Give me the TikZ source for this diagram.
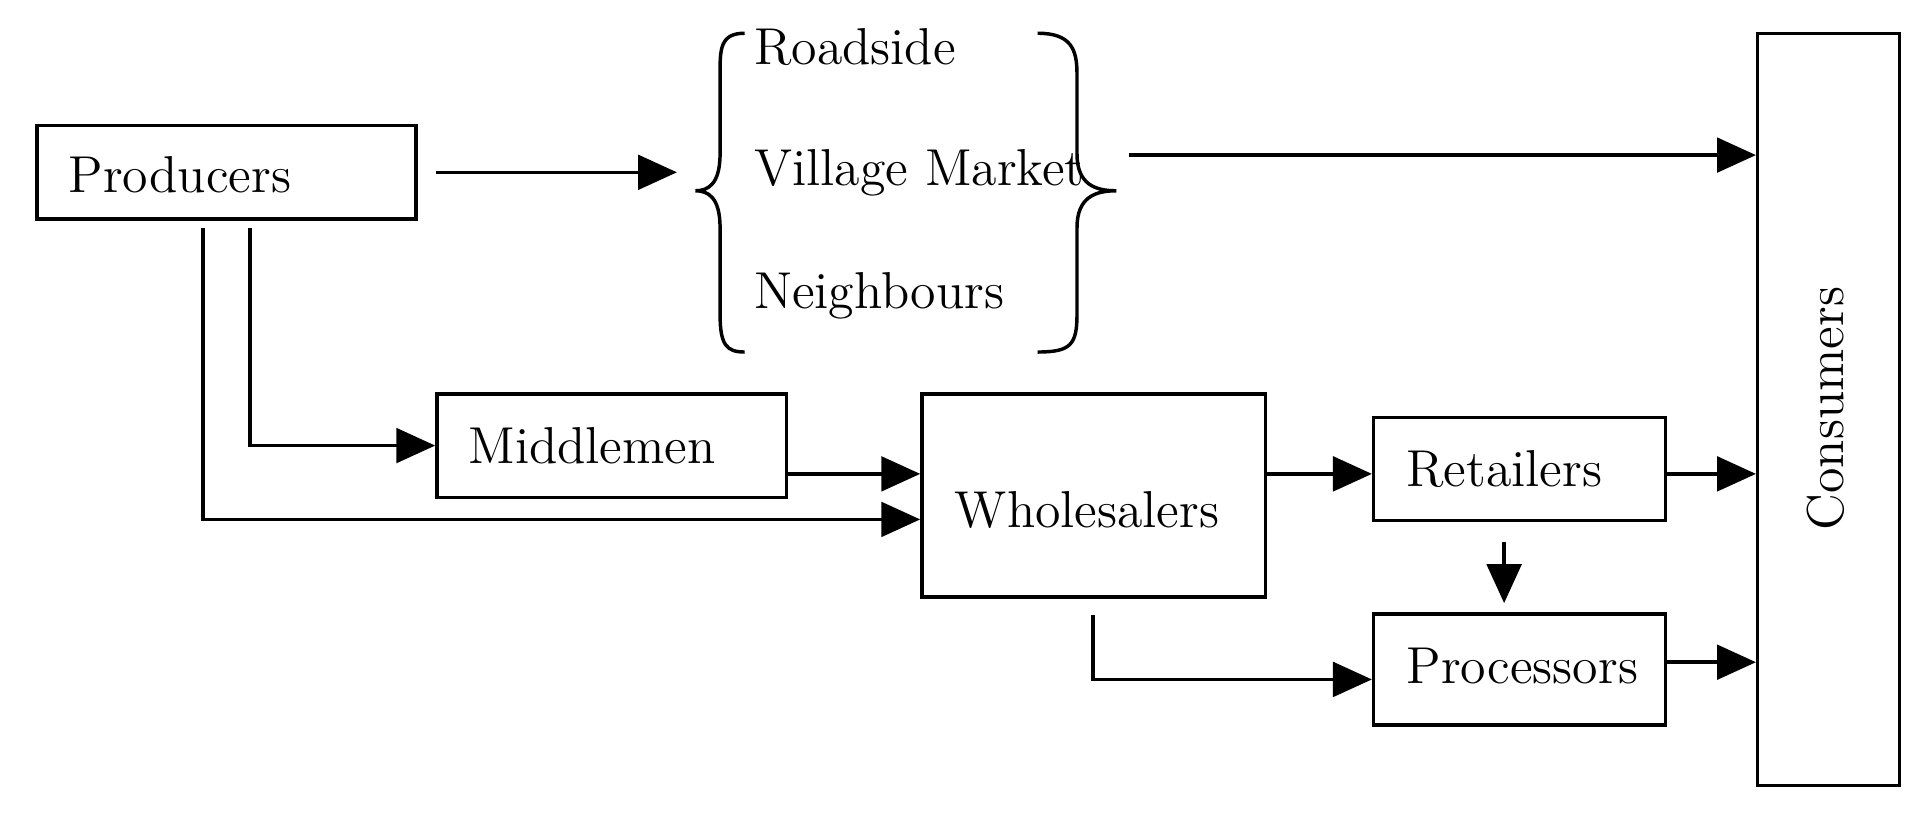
\documentclass[tikz,border=0pt]{standalone}
\usepackage{tikz}
\usetikzlibrary{arrows.meta,positioning,calc}

\tikzset{
  box/.style={draw,thick,inner sep=0pt,font=\large},
  lbl/.style={font=\large,anchor=west,inner sep=0pt},
  flow/.style={-{Triangle[length=9pt,width=8pt]},thick},
}

\begin{document}
\begin{tikzpicture}[x=0.1mm,y=-0.1mm]
\useasboundingbox (0,0) rectangle (1568,675);

\node[box,minimum width=30.8mm,minimum height=7.6mm] (prod) at (184,140) {};
\node[lbl] at (55,142) {Producers};
\node[box,minimum width=28.4mm,minimum height=8.4mm] (mid) at (497,362) {};
\node[lbl] at (380,362) {Middlemen};
\node[box,minimum width=27.9mm,minimum height=16.5mm] (whole) at (888.5,402.5) {};
\node[lbl] at (775,414) {Wholesalers};
\node[box,minimum width=23.7mm,minimum height=8.4mm] (ret) at (1234.5,381) {};
\node[lbl] at (1142,381) {Retailers};
\node[box,minimum width=23.7mm,minimum height=9mm] (proc) at (1234.5,544) {};
\node[lbl] at (1142,541) {Processors};
\node[box,minimum width=11.5mm,minimum height=61.1mm] (cons) at (1485.5,332.5) {};
\node[font=\large,rotate=90] at (1483,332) {Consumers};

\node[lbl] (road) at (612,38) {Roadside};
\node[lbl] (vill) at (612,140) {Village Market};
\node[lbl] (neigh) at (612,240) {Neighbours};

% braces
\draw[thick] (605,27) .. controls (585,27) and (585,40) .. (585,60) -- (585,125)
  .. controls (585,150) and (575,155) .. (565,155)
  .. controls (575,155) and (585,160) .. (585,185) -- (585,255)
  .. controls (585,280) and (590,286) .. (605,286);
\draw[thick] (843,27) .. controls (870,27) and (875,40) .. (875,60) -- (875,125)
  .. controls (875,150) and (890,155) .. (907,155)
  .. controls (890,155) and (875,160) .. (875,185) -- (875,255)
  .. controls (875,280) and (870,286) .. (843,286);

\coordinate (p1) at (354,140);
\coordinate (p2) at (550,140);
\coordinate (b1) at (917,126);
\coordinate (pa) at (203,185);
\coordinate (pb) at (165,185);
\coordinate (r1) at (1222,440);
\coordinate (r2) at (1222,490);
\coordinate (w1) at (888,500);

\draw[flow] (p1) -- (p2);
\draw[flow] (b1) -- (b1 -| cons.west);
\draw[flow] (pa) |- (mid.west);
\draw[flow] (pb) |- (whole.west |- 0,422);
\draw[flow] (mid.east |- 0,385) -- (whole.west |- 0,385);
\draw[flow] (whole.east |- 0,385) -- (ret.west |- 0,385);
\draw[flow] (ret.east |- 0,385) -- (cons.west |- 0,385);
\draw[flow] (r1) -- (r2);
\draw[flow] (w1) |- (proc.west |- 0,552);
\draw[flow] (proc.east |- 0,538) -- (cons.west |- 0,538);
\end{tikzpicture}
\end{document}
